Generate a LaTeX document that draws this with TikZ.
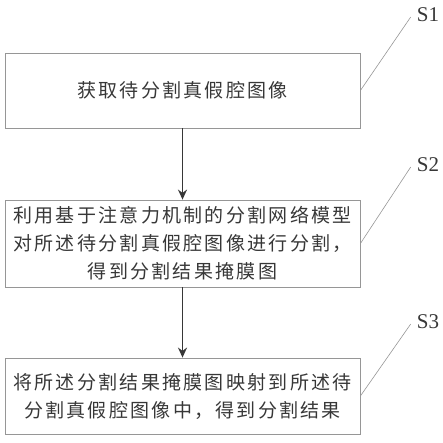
\documentclass[tikz,border=0pt]{standalone}
\usepackage{fontspec}
\setmainfont{Liberation Serif}
\newfontfamily\cjk{Noto Sans CJK SC}[LetterSpace=12]
\usetikzlibrary{positioning,arrows.meta}
\definecolor{edge}{RGB}{150,150,150}
\definecolor{ink}{RGB}{55,55,55}

\begin{document}
\begin{tikzpicture}[x=1pt, y=-1pt,
    box/.style={rectangle, draw=edge, line width=0.8pt, align=center,
                font=\cjk\fontsize{19}{28}\selectfont, text=ink,
                minimum width=355pt, inner sep=0pt},
    arr/.style={-{Stealth[length=10pt, width=9pt]}, line width=1.5pt, draw=ink},
    lead/.style={draw=edge, line width=0.6pt},
    lbl/.style={font=\fontsize{21}{21}\selectfont, text=ink, inner sep=2pt}]
    \useasboundingbox (0,0) rectangle (443,442);
    \node[box, minimum height=75pt] (b1) at (182.5,90.5) {获取待分割真假腔图像};
    \node[box, minimum height=87pt] (b2) at (182.5,243.5)
        {利用基于注意力机制的分割网络模型\\对所述待分割真假腔图像进行分割，\\得到分割结果掩膜图};
    \node[box, minimum height=76pt] (b3) at (182.5,396)
        {将所述分割结果掩膜图映射到所述待\\分割真假腔图像中，得到分割结果};
    \node[lbl] (s1) at (428,15) {S1};
    \node[lbl] (s2) at (428,165) {S2};
    \node[lbl] (s3) at (428,322) {S3};
    \draw[arr] (b1)--(b2); \draw[arr] (b2)--(b3);
    \draw[lead] (b1.east)--([xshift=-4pt,yshift=-2pt]s1.west);
    \draw[lead] (b2.east)--([xshift=-4pt,yshift=-2pt]s2.west);
    \draw[lead] (b3.east)--([xshift=-4pt,yshift=-2pt]s3.west);
\end{tikzpicture}
\end{document}
